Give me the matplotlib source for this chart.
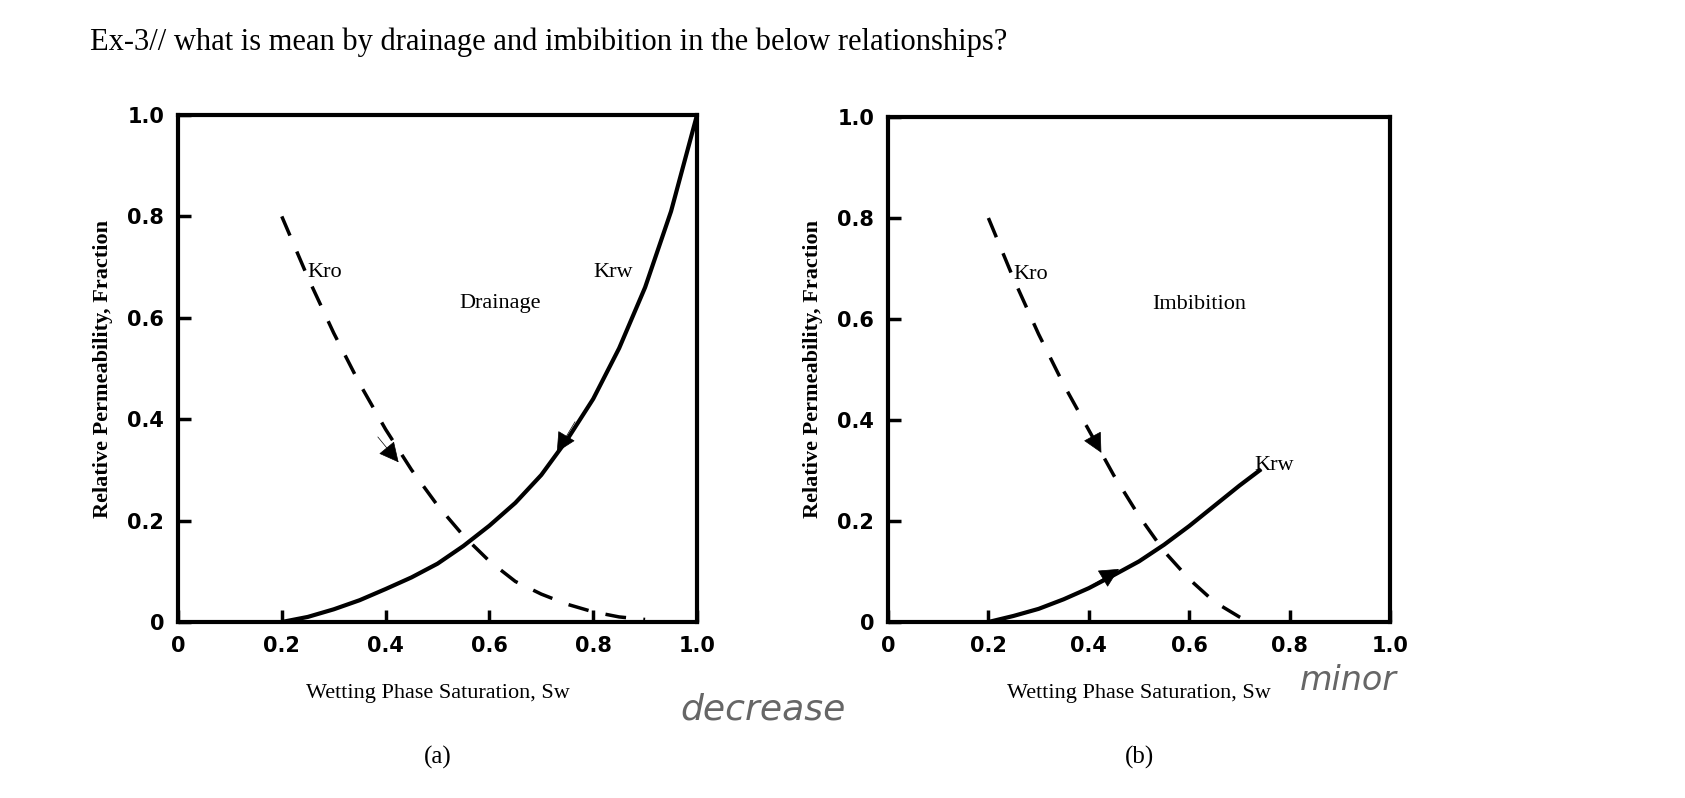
import matplotlib.pyplot as plt

# --- data ---
sw_kro_a = [0.2, 0.25, 0.3, 0.35, 0.4, 0.45, 0.5, 0.55, 0.6, 0.65, 0.7, 0.75, 0.8, 0.85, 0.9]
kro_a = [0.80, 0.68, 0.57, 0.47, 0.38, 0.30, 0.23, 0.17, 0.12, 0.08, 0.055, 0.035, 0.02, 0.01, 0.005]
sw_krw_a = [0.2, 0.25, 0.3, 0.35, 0.4, 0.45, 0.5, 0.55, 0.6, 0.65, 0.7, 0.75, 0.8, 0.85, 0.9, 0.95, 1.0]
krw_a = [0.0, 0.01, 0.025, 0.043, 0.065, 0.088, 0.115, 0.15, 0.19, 0.235, 0.29, 0.36, 0.44, 0.54, 0.66, 0.81, 1.0]

sw_kro_b = [0.2, 0.25, 0.3, 0.35, 0.4, 0.45, 0.5, 0.55, 0.6, 0.65, 0.7, 0.72]
kro_b = [0.80, 0.68, 0.57, 0.47, 0.38, 0.29, 0.21, 0.14, 0.085, 0.04, 0.01, 0.0]
sw_krw_b = [0.2, 0.25, 0.3, 0.35, 0.4, 0.45, 0.5, 0.55, 0.6, 0.65, 0.7, 0.74]
krw_b = [0.0, 0.012, 0.026, 0.045, 0.067, 0.093, 0.12, 0.153, 0.19, 0.23, 0.27, 0.30]

ticks = [0, 0.2, 0.4, 0.6, 0.8, 1.0]
xlabels = ["0", "0.2", "0.4", "0.6", "0.8", "1.0"]
ylabels = ["0", "0.2", "0.4", "0.6", "0.8", "1.0"]

fig = plt.figure(figsize=(16.85, 7.98), dpi=100)
serif = "Liberation Serif"
fig.text(90 / 1685, 1 - 42 / 798,
         "Ex-3// what is mean by drainage and imbibition in the below relationships?",
         family=serif, fontsize=22, va="center")


def panel(rect, skro, kro, skrw, krw, name, krw_pos, caption, arrows):
    ax = fig.add_axes(rect)
    ax.plot(skro, kro, color="black", lw=2.5, ls=(0, (6, 5)))
    ax.plot(skrw, krw, color="black", lw=3)
    # arrow heads along the curves: (from, to)
    for (p0, p1) in arrows:
        ax.annotate("", xy=p1, xytext=p0,
                    arrowprops=dict(arrowstyle="-|>", mutation_scale=32,
                                    lw=0.5, color="black", shrinkA=0, shrinkB=0))
    ax.set_xlim(0, 1)
    ax.set_ylim(0, 1)
    ax.set_xticks(ticks)
    ax.set_yticks(ticks)
    ax.set_xticklabels(xlabels, fontsize=15, fontweight="bold")
    ax.set_yticklabels(ylabels, fontsize=15, fontweight="bold")
    ax.tick_params(direction="in", length=9, width=2.5, pad=10)
    for s in ax.spines.values():
        s.set_linewidth(3)
    ax.set_xlabel("Wetting Phase Saturation, Sw", family=serif, fontsize=16, labelpad=20)
    ax.set_ylabel("Relative Permeability, Fraction", family=serif, fontsize=16,
                  fontweight="bold", labelpad=10)
    ax.text(0.25, 0.68, "Kro", family=serif, fontsize=16)
    ax.text(0.62, 0.62, name, family=serif, fontsize=16, ha="center")
    ax.text(krw_pos[0], krw_pos[1], "Krw", family=serif, fontsize=16)
    ax.text(0.5, -0.28, caption, transform=ax.transAxes, family=serif,
            fontsize=18, ha="center")
    return ax


panel([178 / 1685, 1 - 622 / 798, 519 / 1685, 507 / 798],
      sw_kro_a, kro_a, sw_krw_a, krw_a, "Drainage", (0.8, 0.68), "(a)",
      [((0.385, 0.365), (0.425, 0.315)), ((0.765, 0.395), (0.73, 0.335))])
panel([888 / 1685, 1 - 622 / 798, 502 / 1685, 505 / 798],
      sw_kro_b, kro_b, sw_krw_b, krw_b, "Imbibition", (0.73, 0.30), "(b)",
      [((0.395, 0.39), (0.425, 0.335)), ((0.41, 0.075), (0.46, 0.105))])

fig.text(680 / 1685, 1 - 720 / 798, "decrease", fontsize=26, color="#666",
         style="italic", family="DejaVu Sans")
fig.text(1300 / 1685, 1 - 690 / 798, "minor", fontsize=24, color="#666",
         style="italic", family="DejaVu Sans")

fig.savefig("out.png", dpi=100)
